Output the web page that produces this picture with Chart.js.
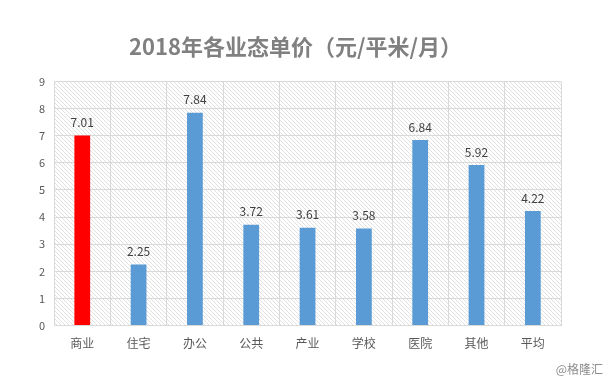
<!DOCTYPE html>
<html>
<head>
<meta charset="utf-8">
<script src="https://cdn.jsdelivr.net/npm/chart.js@4"></script>
<style>
  html, body { margin: 0; padding: 0; background: #fff; }
  #wrap { position: relative; width: 611px; height: 383px; }
  #mark { position: absolute; right: 8px; bottom: 6px; font: 12px "Noto Sans CJK SC", sans-serif; color: #8c8c8c; }
</style>
</head>
<body>
<div id="wrap">
  <canvas id="price-chart" width="611" height="383"></canvas>
  <div id="mark">@格隆汇</div>
</div>
<script>
const categories = ['商业', '住宅', '办公', '公共', '产业', '学校', '医院', '其他', '平均'];
const prices = [7.01, 2.25, 7.84, 3.72, 3.61, 3.58, 6.84, 5.92, 4.22];
const barColors = ['#ff0000', '#5b9bd5', '#5b9bd5', '#5b9bd5', '#5b9bd5', '#5b9bd5', '#5b9bd5', '#5b9bd5', '#5b9bd5'];

const FONT = '"Noto Sans CJK SC", "Liberation Sans", sans-serif';

// diagonal hatch for the plot area
function makeHatch() {
    const c = document.createElement('canvas');
    c.width = 4;
    c.height = 4;
    const g = c.getContext('2d');
    g.strokeStyle = '#e0e0e0';
    g.lineWidth = 1;
    g.beginPath();
    g.moveTo(-1, -1); g.lineTo(5, 5);
    g.moveTo(-1, 3); g.lineTo(1, 5);
    g.moveTo(3, -1); g.lineTo(5, 1);
    g.stroke();
    return g.createPattern(c, 'repeat');
}

const hatchBg = {
    id: 'hatchBg',
    beforeDraw(chart) {
        const { ctx, chartArea: a } = chart;
        ctx.save();
        ctx.fillStyle = makeHatch();
        ctx.fillRect(a.left, a.top, a.right - a.left, a.bottom - a.top);
        ctx.restore();
    }
};

const valueLabels = {
    id: 'valueLabels',
    afterDatasetsDraw(chart) {
        const { ctx } = chart;
        const meta = chart.getDatasetMeta(0);
        ctx.save();
        ctx.font = '12px ' + FONT;
        ctx.fillStyle = '#404040';
        ctx.textAlign = 'center';
        ctx.textBaseline = 'bottom';
        meta.data.forEach((bar, i) => {
            ctx.fillText(prices[i].toFixed(2), bar.x, bar.y - 7);
        });
        ctx.restore();
    }
};

const ctx = document.getElementById('price-chart');
const PriceChart = new Chart(ctx, {
    type: 'bar',
    data: {
        labels: categories,
        datasets: [{
            data: prices,
            backgroundColor: barColors,
            borderWidth: 0,
            barPercentage: 0.28,
            categoryPercentage: 1
        }]
    },
    options: {
        responsive: false,
        animation: false,
        layout: { padding: { left: 30, right: 50, top: 0, bottom: 21 } },
        plugins: {
            legend: { display: false },
            tooltip: { enabled: false },
            title: {
                display: true,
                text: '2018年各业态单价（元/平米/月）',
                color: '#808080',
                font: { family: FONT, size: 22, weight: 'bold' },
                padding: { top: 33, bottom: 22 }
            }
        },
        scales: {
            x: {
                grid: { color: '#d9d9d9', offset: true, drawTicks: false },
                border: { color: '#d9d9d9' },
                ticks: { color: '#595959', font: { family: FONT, size: 12 }, padding: 11 }
            },
            y: {
                min: 0,
                max: 9,
                grid: { color: '#d9d9d9', drawTicks: false },
                border: { display: false },
                ticks: { stepSize: 1, color: '#595959', font: { family: FONT, size: 11 }, padding: 9 }
            }
        }
    },
    plugins: [hatchBg, valueLabels]
});
</script>
</body>
</html>
